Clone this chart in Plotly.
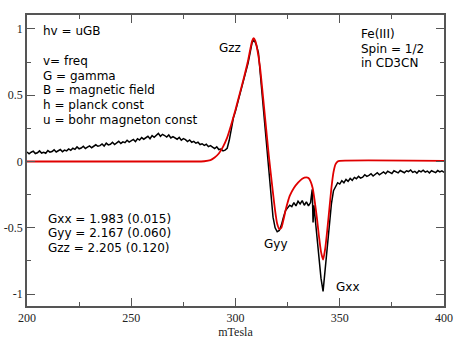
import plotly.graph_objects as go

# Experimental spectrum (black)
exp_x = list(range(200, 337)) + [336.8, 337.2, 337.6] + list(range(338, 401))
exp_y = [
    0.072, 0.058, 0.07, 0.078, 0.06, 0.066, 0.08, 0.064, 0.07, 0.062,
    0.082, 0.07, 0.075, 0.088, 0.072, 0.078, 0.09, 0.074, 0.086, 0.08,
    0.095, 0.084, 0.1, 0.092, 0.11, 0.096, 0.102, 0.115, 0.098, 0.108,
    0.118, 0.104, 0.112, 0.126, 0.115, 0.12, 0.132, 0.116, 0.138, 0.125,
    0.13, 0.145, 0.128, 0.14, 0.152, 0.136, 0.148, 0.142, 0.16, 0.146,
    0.158, 0.166, 0.15, 0.172, 0.162, 0.18, 0.168, 0.176, 0.19, 0.172,
    0.195, 0.182, 0.2, 0.212, 0.19, 0.205, 0.196, 0.184, 0.2, 0.178,
    0.188, 0.175, 0.168, 0.182, 0.16, 0.172, 0.165, 0.15, 0.162, 0.145,
    0.152, 0.138, 0.145, 0.128, 0.134, 0.122, 0.13, 0.112, 0.12, 0.108,
    0.098, 0.11, 0.09, 0.094, 0.08, 0.086,
    0.1, 0.16, 0.25, 0.33, 0.38, 0.44, 0.5, 0.54, 0.6, 0.66,
    0.74, 0.82, 0.9, 0.915, 0.88, 0.82, 0.64, 0.46, 0.25, 0.07,
    -0.1, -0.28, -0.42, -0.5, -0.53, -0.52, -0.48, -0.42, -0.37, -0.35,
    -0.33, -0.34, -0.31, -0.335, -0.3, -0.32, -0.295, -0.33, -0.305, -0.335, -0.31,
    -0.21, -0.46, -0.33,
    -0.4, -0.55, -0.72, -0.88, -0.98, -0.82, -0.62, -0.46, -0.32, -0.22,
    -0.19, -0.16, -0.17,
    -0.145, -0.16, -0.135, -0.15, -0.128, -0.142, -0.12, -0.13, -0.112, -0.125,
    -0.118, -0.1, -0.112, -0.105, -0.092, -0.11, -0.096, -0.085, -0.1, -0.088,
    -0.078, -0.092, -0.074, -0.082, -0.09, -0.07, -0.08, -0.086, -0.068, -0.078,
    -0.085, -0.07, -0.076, -0.064, -0.082, -0.074, -0.088, -0.07, -0.078, -0.066,
    -0.08, -0.072, -0.086, -0.07, -0.076, -0.084, -0.068, -0.078, -0.07, -0.082,
]

# Simulated spectrum (red)
sim_x = [200, 280, 285, 288, 290, 292, 294, 296, 298, 300, 302, 304, 306, 307, 308,
         308.7, 309.5, 310.5, 311.7, 313, 314, 315, 316, 317, 318, 319, 320, 321,
         322, 323, 324, 325, 326, 328, 330, 332, 334, 335, 336, 337, 338, 339, 340,
         341, 342, 343, 344, 345, 346, 347, 348, 349, 350, 400]
sim_y = [0, 0, 0.002, 0.01, 0.03, 0.06, 0.11, 0.18, 0.28, 0.39, 0.51, 0.63, 0.76, 0.84, 0.91,
         0.93, 0.91, 0.84, 0.72, 0.52, 0.36, 0.2, 0.04, -0.1, -0.24, -0.37, -0.47, -0.51,
         -0.5, -0.44, -0.37, -0.31, -0.26, -0.2, -0.16, -0.13, -0.12, -0.125, -0.15, -0.2, -0.3, -0.42, -0.56,
         -0.68, -0.74, -0.66, -0.52, -0.36, -0.2, -0.08, -0.02, 0.0, 0.005, 0.005]

x_ticks = [200, 250, 300, 350, 400]
x_tick_text = ["200", "250", "300", "350", "400"]
y_ticks = [-1, -0.5, 0, 0.5, 1]
y_tick_text = ["-1", "-0.5", "0", "0.5", "1"]

fig = go.Figure()
fig.add_trace(go.Scatter(x=exp_x, y=exp_y, mode="lines",
                         line=dict(color="black", width=1.5), showlegend=False))
fig.add_trace(go.Scatter(x=sim_x, y=sim_y, mode="lines",
                         line=dict(color="#e00000", width=1.8, shape="spline", smoothing=0.6),
                         showlegend=False))

ann_font = dict(family="DejaVu Sans", size=12, color="black")
notes = [
    (207.2, 0.985, "hv = uGB"),
    (207.2, 0.76, "v= freq"),
    (207.2, 0.647, "G = gamma"),
    (207.2, 0.541, "B = magnetic field"),
    (207.2, 0.429, "h = planck const"),
    (207.2, 0.316, "u = bohr magneton const"),
    (291.6, 0.857, "Gzz"),
    (359.7, 0.962, "Fe(III)"),
    (359.7, 0.85, "Spin = 1/2"),
    (359.7, 0.744, "in CD3CN"),
    (209.6, -0.436, "Gxx = 1.983 (0.015)"),
    (209.6, -0.541, "Gyy = 2.167 (0.060)"),
    (209.6, -0.654, "Gzz = 2.205 (0.120)"),
    (313.2, -0.624, "Gyy"),
    (347.7, -0.947, "Gxx"),
]
for x, y, t in notes:
    fig.add_annotation(x=x, y=y, text=t, showarrow=False, xanchor="left",
                       yanchor="middle", font=ann_font, borderpad=0)

axis_common = dict(showline=True, linecolor="#555", linewidth=1.5, mirror="ticks",
                   ticks="inside", ticklen=8, tickwidth=1.2, tickcolor="#555",
                   showgrid=False, zeroline=False, automargin=False,
                   tickfont=dict(family="Liberation Serif", size=12, color="#222"))

fig.update_xaxes(range=[200, 400], tickvals=x_ticks, ticktext=x_tick_text,
                 minor=dict(ticks="inside", ticklen=4, tickcolor="#555", dtick=25, showgrid=False),
                 title=dict(text="mTesla", font=dict(family="Liberation Serif", size=12, color="#222"),
                            standoff=0),
                 **axis_common)
fig.update_yaxes(range=[-1.09, 1.105], tickvals=y_ticks, ticktext=y_tick_text,
                 minor=dict(ticks="inside", ticklen=4, tickcolor="#555", dtick=0.25, tick0=0, showgrid=False),
                 **axis_common)

fig.update_layout(width=474, height=348, margin=dict(l=27, r=30, t=15, b=42),
                  plot_bgcolor="white", paper_bgcolor="white")

fig.write_html("out.html")
